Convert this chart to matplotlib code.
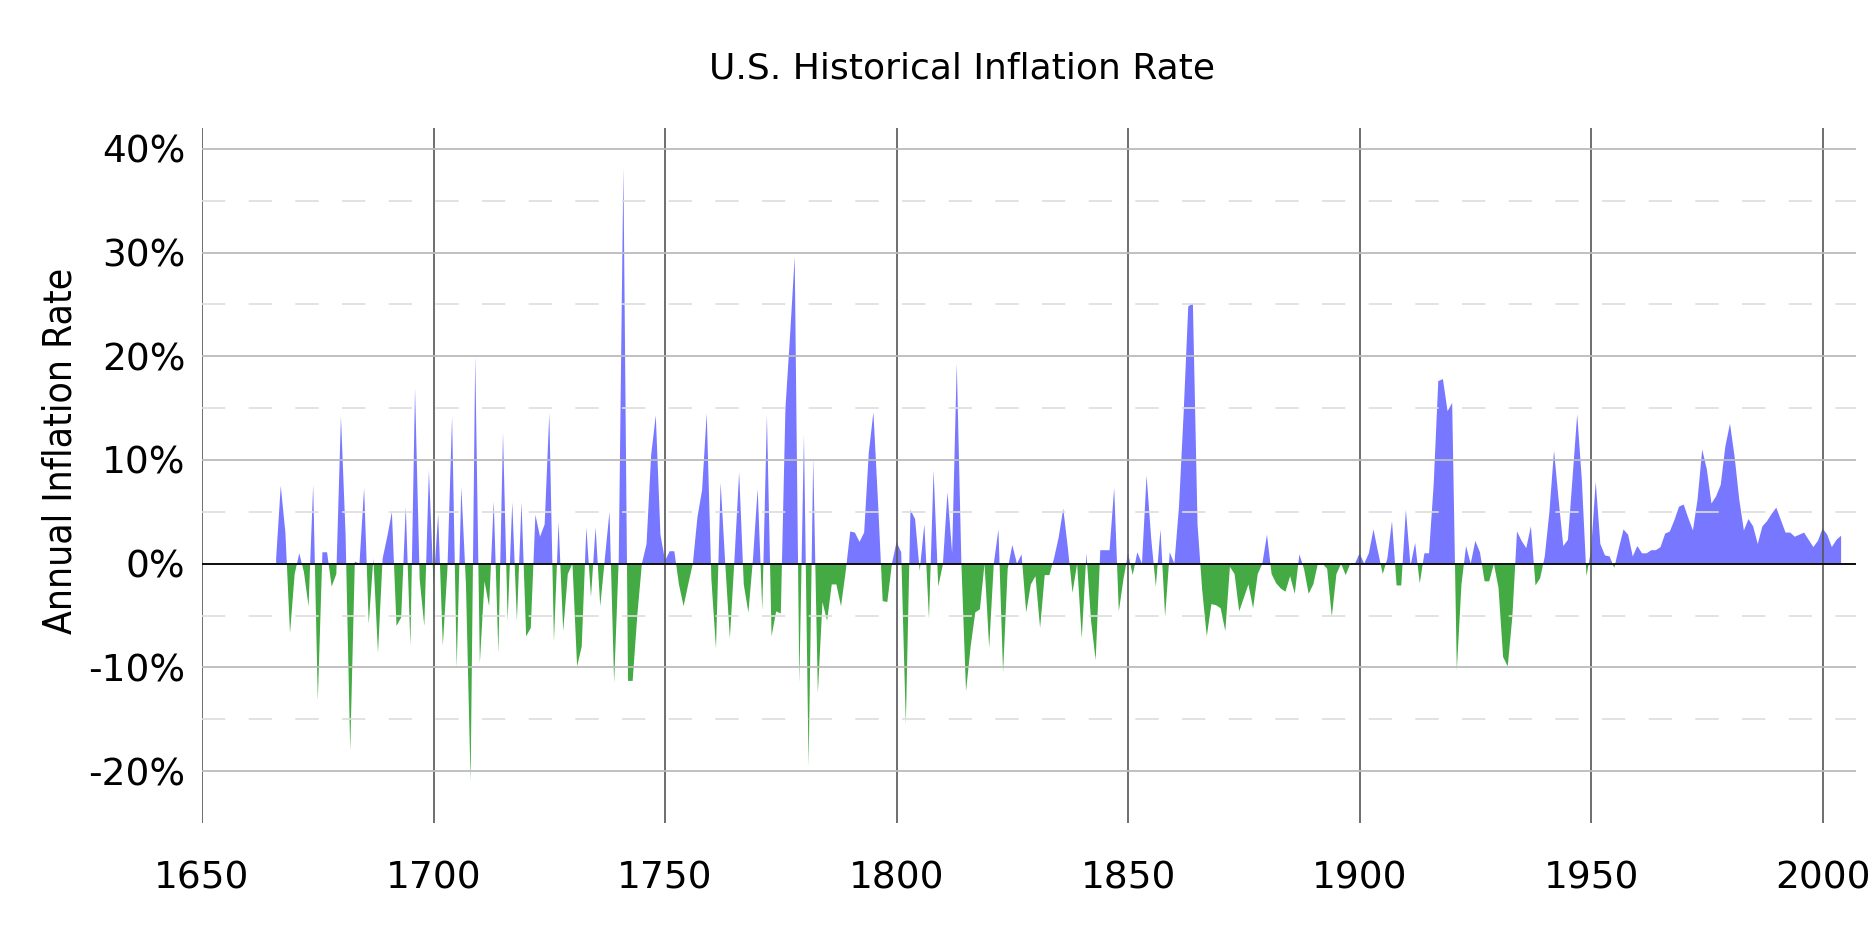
import numpy as np
import matplotlib
matplotlib.use("Agg")
import matplotlib.pyplot as plt
from matplotlib.ticker import FuncFormatter

# annual inflation rate (%), one value per year starting in first_year
first_year = 1666
rates = [
    0.5, 7.5, 3.0, -6.7, -1.0, 1.0, -0.8, -4.1, 7.6, -13.2,       # 1666-1675
    1.1, 1.1, -2.2, -1.0, 14.2, 2.8, -18.0, 0.2, 0.0, 7.3,        # 1676-1685
    -5.8, 0.5, -8.6, 0.5, 2.6, 5.0, -6.0, -5.2, 5.5, -7.9,        # 1686-1695
    16.9, -1.5, -6.0, 9.0, -2.0, 4.8, -7.9, -0.5, 14.2, -10.0,    # 1696-1705
    7.4, -2.0, -21.0, 20.0, -9.6, -1.7, -4.1, 6.0, -8.6, 12.6,    # 1706-1715
    -5.5, 5.9, -5.5, 5.9, -7.0, -6.2, 4.7, 2.6, 3.8, 14.5,        # 1716-1725
    -7.5, 4.0, -6.5, -1.0, 0.0, -9.9, -8.0, 3.5, -3.2, 3.5,       # 1726-1735
    -4.1, 0.5, 5.0, -11.5, 0.5, 38.2, -11.3, -11.3, -5.0, 0.0,    # 1736-1745
    1.9, 10.5, 14.3, 2.8, 0.3, 1.2, 1.2, -2.0, -4.1, -2.0,        # 1746-1755
    0.0, 4.5, 7.1, 14.5, -1.5, -8.2, 7.8, 0.0, -7.2, 0.5,         # 1756-1765
    8.8, -2.0, -4.7, 0.5, 7.2, -4.5, 14.3, -7.0, -4.6, -4.8,      # 1766-1775
    15.0, 22.0, 29.6, -11.5, 12.4, -19.5, 10.2, -12.5, -3.7, -5.5,  # 1776-1785
    -2.0, -2.0, -4.1, -0.8, 3.1, 3.0, 2.1, 3.0, 10.7, 14.6,       # 1786-1795
    5.9, -3.6, -3.7, 0.0, 2.1, 1.1, -15.5, 5.2, 4.3, -0.7,        # 1796-1805
    3.8, -5.3, 9.0, -2.2, -0.1, 6.9, 1.0, 19.3, 0.0, -12.3,       # 1806-1815
    -8.0, -4.7, -4.4, 0.0, -8.1, 0.0, 3.3, -10.5, -0.5, 1.8,      # 1816-1825
    0.0, 0.9, -4.7, -2.0, -1.2, -6.2, -1.1, -1.1, 0.5, 2.5,       # 1826-1835
    5.3, 1.5, -2.8, 0.0, -7.2, 1.0, -5.5, -9.3, 1.3, 1.3,         # 1836-1845
    1.3, 7.3, -4.6, -1.5, 1.0, -1.1, 1.1, 0.0, 8.5, 2.4,          # 1846-1855
    -2.2, 3.3, -5.1, 1.1, 0.0, 5.5, 14.5, 24.8, 25.1, 3.8,        # 1856-1865
    -2.5, -7.0, -3.9, -4.0, -4.3, -6.5, -0.3, -1.0, -4.6, -3.3,   # 1866-1875
    -2.0, -4.3, -1.0, 0.0, 2.8, -1.0, -1.9, -2.4, -2.7, -1.2,     # 1876-1885
    -2.9, 0.9, -0.5, -2.9, -2.0, 0.0, 0.0, -0.5, -5.1, -1.0,      # 1886-1895
    0.0, -1.1, 0.0, 0.0, 1.0, 0.0, 1.0, 3.3, 1.1, -1.0,           # 1896-1905
    0.5, 4.1, -2.1, -2.1, 5.2, -0.2, 2.0, -1.9, 1.0, 1.0,         # 1906-1915
    7.6, 17.6, 17.8, 14.7, 15.5, -10.3, -2.0, 1.7, 0.0, 2.2,      # 1916-1925
    1.1, -1.7, -1.7, 0.0, -2.3, -9.0, -9.9, -5.1, 3.1, 2.2,       # 1926-1935
    1.5, 3.6, -2.1, -1.4, 0.7, 5.0, 10.9, 6.1, 1.7, 2.3,          # 1936-1945
    8.3, 14.4, 8.1, -1.2, 1.3, 7.9, 1.9, 0.8, 0.7, -0.4,          # 1946-1955
    1.5, 3.3, 2.8, 0.7, 1.7, 1.0, 1.0, 1.3, 1.3, 1.6,             # 1956-1965
    2.9, 3.1, 4.2, 5.5, 5.7, 4.4, 3.2, 6.2, 11.0, 9.1,            # 1966-1975
    5.8, 6.5, 7.6, 11.3, 13.5, 10.3, 6.2, 3.2, 4.3, 3.6,          # 1976-1985
    1.9, 3.6, 4.1, 4.8, 5.4, 4.2, 3.0, 3.0, 2.6, 2.8,             # 1986-1995
    3.0, 2.3, 1.6, 2.2, 3.4, 2.8, 1.6, 2.3, 2.7,                  # 1996-2004
]
year_ticks = [1650, 1700, 1750, 1800, 1850, 1900, 1950, 2000]
rate_ticks = [-20, -10, 0, 10, 20, 30, 40]
title = "U.S. Historical Inflation Rate"
ylabel = "Annual Inflation Rate"

years = np.arange(first_year, first_year + len(rates))
r = np.array(rates)

fig = plt.figure(figsize=(18.76, 9.38), dpi=100)
ax = fig.add_axes([0.1077, 0.1226, 0.8816, 0.7409])

ax.fill_between(years, r, 0, where=r >= 0, interpolate=True,
                color="#7777ff", lw=0)
ax.fill_between(years, r, 0, where=r <= 0, interpolate=True,
                color="#44aa44", lw=0)
ax.axhline(0, color="black", lw=1.3, zorder=3)

ax.set_xlim(1650, 2007.2)
ax.set_ylim(-25, 42)
ax.set_xticks(year_ticks)
ax.set_yticks(rate_ticks)
ax.set_yticks([v + 5 for v in rate_ticks[:-1]], minor=True)
ax.yaxis.set_major_formatter(FuncFormatter(lambda v, p: f"{int(v)}%"))

ax.set_axisbelow(False)
ax.grid(axis="x", color="#555555", lw=1.2)
ax.grid(axis="y", which="major", color="#bbbbbb", lw=1.3)
ax.grid(axis="y", which="minor", color="#dddddd", lw=1.2,
        linestyle=(0, (14, 14)))
for s in ax.spines.values():
    s.set_visible(False)
ax.tick_params(which="both", length=0)
ax.tick_params(axis="x", labelsize=27, pad=27)
ax.tick_params(axis="y", labelsize=27, pad=12)

fig.text(0.513, 0.927, title, fontsize=26, ha="center", va="center")
fig.text(0.032, 1 - 451 / 938, ylabel, fontsize=28, rotation=90,
         ha="center", va="center", family="DejaVu Sans",
         fontstretch="condensed")

fig.savefig("out.png", dpi=100)
